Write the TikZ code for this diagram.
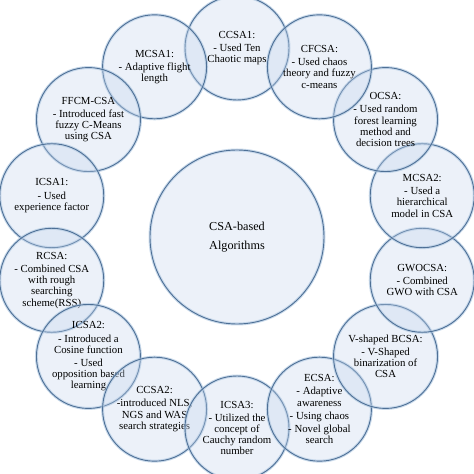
\documentclass[tikz,border=0pt]{standalone}
\usepackage{fontspec}
\setmainfont{Liberation Serif}

\definecolor{ringfill}{RGB}{196,213,236}
\definecolor{ringline}{RGB}{78,112,150}
\definecolor{ringglow}{RGB}{165,192,220}

\tikzset{
  algo/.style={circle, minimum size=104pt, inner sep=0pt, align=center,
    font=\fontsize{10.8}{11.2}\selectfont,
    fill=ringfill, fill opacity=0.32, text opacity=1,
    draw=ringline, line width=0.9pt,
    preaction={draw=ringglow, line width=3pt, draw opacity=0.6}},
  hub/.style={algo, minimum size=174pt, font=\fontsize{12.2}{19}\selectfont}
}

\begin{document}
\begin{tikzpicture}[x=1pt, y=1pt]

    \useasboundingbox (0,0) rectangle (474,474);

    %----- CENTRAL CIRCLE -----
    \node[hub] (hub) at (237,237) {CSA-based\\Algorithms};

    %----- RING OF 14 ALGORITHMS -----
    \begin{scope}[shift={(237,236)}]
        % top, going counter-clockwise
        \node[algo] (ccsa1) at (90:190pt) {CCSA1:\\[2pt]- Used Ten\\Chaotic maps};
        \node[algo] (mcsa1) at (115.71:190pt) {MCSA1:\\[2pt]- Adaptive flight\\length};
        \node[algo] (ffcm) at (141.43:190pt) {FFCM-CSA\\[2pt]- Introduced fast\\fuzzy C-Means\\using CSA};
        \node[algo] (icsa1) at (167.14:190pt) {ICSA1:\\[2pt]- Used\\experience factor};
        \node[algo] (rcsa) at (192.86:190pt) {RCSA:\\[2pt]- Combined CSA\\with rough\\searching\\scheme(RSS)};
        \node[algo] (icsa2) at (218.57:190pt) {ICSA2:\\[2pt]- Introduced a\\Cosine function\\[2pt]- Used\\opposition based\\learning};
        \node[algo] (ccsa2) at (244.29:190pt) {CCSA2:\\[2pt]-introduced NLS,\\NGS and WAS\\search strategies};
        \node[algo] (icsa3) at (270:190pt) {ICSA3:\\[2pt]- Utilized the\\concept of\\Cauchy random\\number};
        % right half, bottom to top
        \node[algo] (ecsa) at (295.71:190pt) {ECSA:\\[2pt]- Adaptive\\awareness\\[2pt]- Using chaos\\[2pt]- Novel global\\search};
        \node[algo] (vbcsa) at (321.43:190pt) {V-shaped BCSA:\\[2pt]- V-Shaped\\binarization of\\CSA};
        \node[algo] (gwocsa) at (347.14:190pt) {GWOCSA:\\[2pt]- Combined\\GWO with CSA};
        \node[algo] (mcsa2) at (12.86:190pt) {MCSA2:\\[2pt]- Used a\\hierarchical\\model in CSA};
        \node[algo] (ocsa) at (38.57:190pt) {OCSA:\\[2pt]- Used random\\forest learning\\method and\\decision trees};
        \node[algo] (cfcsa) at (64.29:190pt) {CFCSA:\\[2pt]- Used chaos\\theory and fuzzy\\c-means};
    \end{scope}

\end{tikzpicture}
\end{document}
